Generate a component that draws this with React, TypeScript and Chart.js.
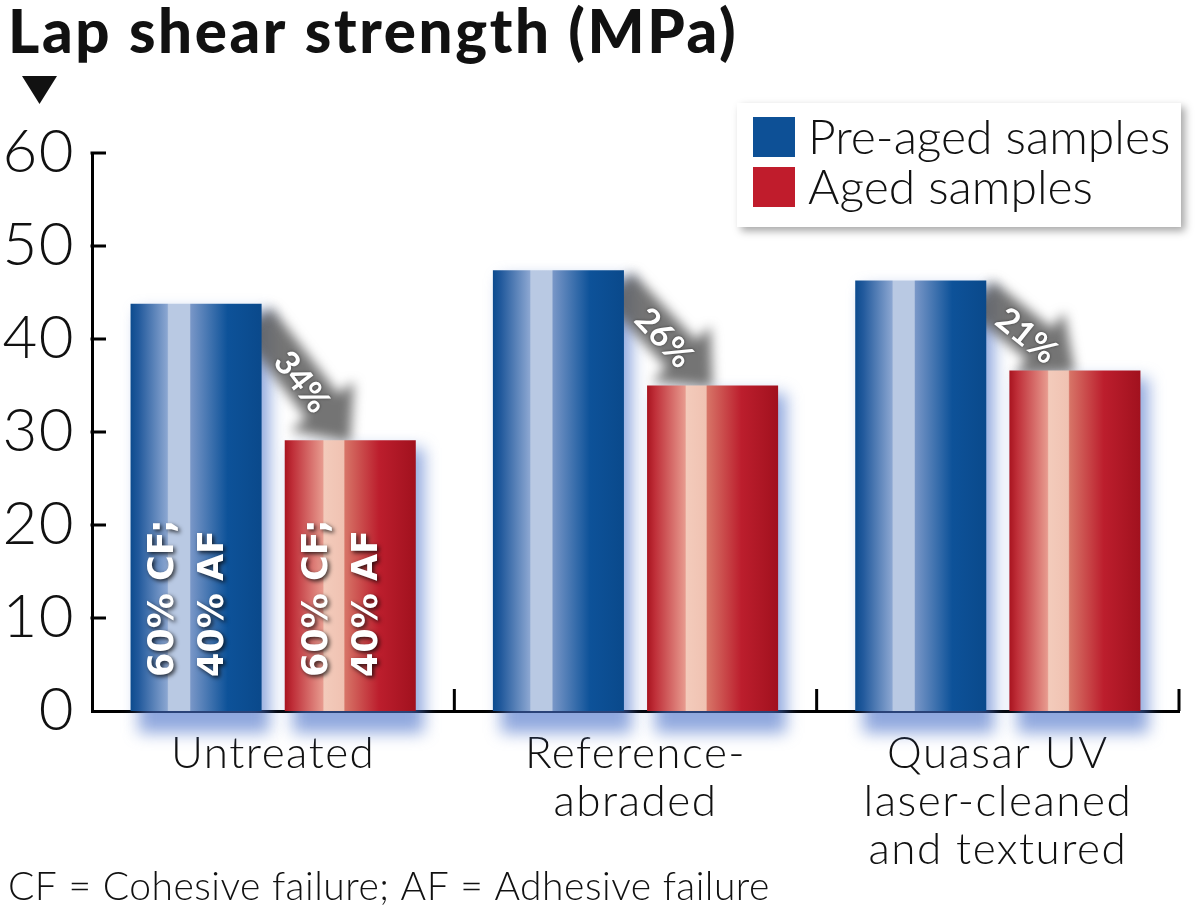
import React, { useEffect, useRef } from "react";
import { Chart, registerables } from "chart.js";

Chart.register(...registerables);

// Treatment groups shown along the x axis (multi-line labels)
const categories: string[][] = [
  ["Untreated"],
  ["Reference-", "abraded"],
  ["Quasar UV", "laser-cleaned", "and textured"],
];

// Lap shear strength in MPa
const preAgedValues = [43.8, 47.4, 46.3];
const agedValues = [29.1, 35.0, 36.6];

const seriesLabels = ["Pre-aged samples", "Aged samples"];
const yTickValues = [0, 10, 20, 30, 40, 50, 60];

// Failure-mode notes written inside the bars of each group
const failureNotes: (string[] | null)[] = [["60% CF;", "40% AF"], null, null];

const titleText = "Lap shear strength (MPa)";
const footnoteText = "CF = Cohesive failure; AF = Adhesive failure";

const blueStops: [number, string][] = [
  [0, "#0c4b8e"],
  [0.06, "#21599c"],
  [0.28, "#8ba6d1"],
  [0.29, "#b9c9e3"],
  [0.45, "#b9c9e3"],
  [0.46, "#7896c7"],
  [0.74, "#0d5299"],
  [1, "#0a498b"],
];
const redStops: [number, string][] = [
  [0, "#a8141f"],
  [0.06, "#bf2e38"],
  [0.29, "#e79a8e"],
  [0.3, "#f3cbbb"],
  [0.45, "#f0c2b2"],
  [0.46, "#d77467"],
  [0.72, "#bc1e2d"],
  [1, "#a1111e"],
];

const makeFill = (stops: [number, string][], fallback: string) => (c: any) => {
  if (c.type !== "data") return fallback;
  const el: any = c.chart.getDatasetMeta(c.datasetIndex).data[c.dataIndex];
  if (!el || el.width == null || !isFinite(el.x) || !isFinite(el.width)) return fallback;
  const left = el.x - el.width / 2;
  const g = c.chart.ctx.createLinearGradient(left, 0, left + el.width, 0);
  stops.forEach(([o, col]) => g.addColorStop(o, col));
  return g;
};

const dropLabel = (i: number) =>
  Math.round(((preAgedValues[i] - agedValues[i]) / preAgedValues[i]) * 100) + "%";

const decorPlugin = {
  id: "decor",
  beforeDraw(chart: any) {
    // slightly open letter spacing for the axis labels
    (chart.ctx as any).letterSpacing = "1.5px";
  },
  beforeDatasetsDraw(chart: any) {
    const { ctx } = chart;
    const blue = chart.getDatasetMeta(0).data;
    const red = chart.getDatasetMeta(1).data;

    // soft blue glow behind the bars
    ctx.save();
    ctx.filter = "blur(8px)";
    ctx.fillStyle = "rgba(70,110,200,0.6)";
    [...blue, ...red].forEach((b: any) => {
      const left = b.x - b.width / 2;
      ctx.fillRect(left + 8, b.y + 8, b.width, b.base - b.y + 14);
    });
    ctx.restore();

    // grey drop arrows from pre-aged to aged bar
    blue.forEach((b: any, i: number) => {
      const r: any = red[i];
      const sx = b.x + b.width / 2 - 6;
      const sy = b.y + 16;
      const tx = r.x;
      const ty = r.y + 2;
      const ang = Math.atan2(ty - sy, tx - sx);
      const len = Math.hypot(tx - sx, ty - sy);
      ctx.save();
      ctx.translate(sx, sy);
      ctx.rotate(ang);
      ctx.save();
      ctx.filter = "blur(6px)";
      ctx.fillStyle = "rgba(92,92,92,0.85)";
      const hw = 20, hh = 40, hl = 46;
      ctx.beginPath();
      ctx.moveTo(0, -hw);
      ctx.lineTo(len - hl, -hw);
      ctx.lineTo(len - hl, -hh);
      ctx.lineTo(len, 0);
      ctx.lineTo(len - hl, hh);
      ctx.lineTo(len - hl, hw);
      ctx.lineTo(0, hw);
      ctx.closePath();
      ctx.fill();
      ctx.restore();
      (ctx as any).letterSpacing = "0px";
      ctx.font = "bold 34px Lato";
      ctx.fillStyle = "#ffffff";
      ctx.textAlign = "center";
      ctx.textBaseline = "middle";
      ctx.shadowColor = "rgba(0,0,0,0.5)";
      ctx.shadowBlur = 3;
      ctx.fillText(dropLabel(i), len * 0.5, 2);
      ctx.restore();
    });
  },
  afterDraw(chart: any) {
    const { ctx, chartArea } = chart;
    const xs = chart.scales.x;
    const ys = chart.scales.y;

    // inward tick marks on both axes
    ctx.save();
    ctx.strokeStyle = "#000";
    ctx.lineWidth = 3;
    ctx.beginPath();
    yTickValues.filter((v) => v > 0).forEach((v) => {
      const py = ys.getPixelForValue(v);
      ctx.moveTo(chartArea.left - 1.5, py);
      ctx.lineTo(chartArea.left + 14, py);
    });
    categories.forEach((_, i) => {
      const px = xs.getPixelForValue(i + 0.5);
      ctx.moveTo(px, chartArea.bottom);
      ctx.lineTo(px, chartArea.bottom - 22);
    });
    ctx.stroke();
    ctx.restore();

    // failure-mode notes inside bars
    const metas = [chart.getDatasetMeta(0), chart.getDatasetMeta(1)];
    failureNotes.forEach((lines, i) => {
      if (!lines) return;
      metas.forEach((m) => {
        const b: any = m.data[i];
        ctx.save();
        ctx.translate(b.x - 7, b.base - 34);
        ctx.rotate(-Math.PI / 2);
        (ctx as any).letterSpacing = "0px";
        ctx.font = 'bold 35px "DejaVu Sans"';
        ctx.fillStyle = "#ffffff";
        ctx.textAlign = "left";
        ctx.textBaseline = "middle";
        ctx.shadowColor = "rgba(0,0,0,0.75)";
        ctx.shadowBlur = 4;
        ctx.shadowOffsetX = 2;
        ctx.shadowOffsetY = 2;
        ctx.fillText(lines[0], 0, -25);
        ctx.fillText(lines[1], 0, 25);
        ctx.restore();
      });
    });

    // title and pointer
    ctx.save();
    ctx.fillStyle = "#111";
    (ctx as any).letterSpacing = "2.6px";
    ctx.font = "900 60px Lato";
    ctx.textAlign = "left";
    ctx.textBaseline = "alphabetic";
    ctx.fillText(titleText, 8, 53);
    ctx.beginPath();
    ctx.moveTo(22, 76);
    ctx.lineTo(57, 76);
    ctx.lineTo(39.5, 104);
    ctx.closePath();
    ctx.fill();

    // footnote
    (ctx as any).letterSpacing = "0.5px";
    ctx.font = "300 39px Lato";
    ctx.fillText(footnoteText, 8, 900);
    ctx.restore();

    // legend box
    ctx.save();
    ctx.shadowColor = "rgba(0,0,0,0.35)";
    ctx.shadowBlur = 8;
    ctx.shadowOffsetX = 4;
    ctx.shadowOffsetY = 4;
    ctx.fillStyle = "#ffffff";
    ctx.fillRect(737, 103, 444, 124);
    ctx.restore();
    ctx.save();
    const swatches = ["#0d5096", "#c01c2c"];
    seriesLabels.forEach((label, k) => {
      const top = 117 + k * 50;
      ctx.fillStyle = swatches[k];
      ctx.fillRect(753, top, 42, 40);
      ctx.fillStyle = "#111";
      (ctx as any).letterSpacing = "0px";
      ctx.font = "300 48px Lato";
      ctx.textAlign = "left";
      ctx.textBaseline = "alphabetic";
      ctx.fillText(label, 808, 154 + k * 50);
    });
    ctx.restore();
  },
};

export default function App() {
  const canvasRef = useRef<HTMLCanvasElement | null>(null);

  useEffect(() => {
    if (!canvasRef.current) return;
    const chart = new Chart(canvasRef.current, {
      type: "bar",
      data: {
        labels: categories,
        datasets: [
          {
            label: seriesLabels[0],
            data: preAgedValues,
            backgroundColor: makeFill(blueStops, "#0d5096"),
            borderWidth: 0,
            categoryPercentage: 0.851,
            barPercentage: 0.85,
            clip: false,
          } as any,
          {
            label: seriesLabels[1],
            data: agedValues,
            backgroundColor: makeFill(redStops, "#c01c2c"),
            borderWidth: 0,
            categoryPercentage: 0.851,
            barPercentage: 0.85,
            clip: false,
          } as any,
        ],
      },
      options: {
        responsive: false,
        animation: false,
        devicePixelRatio: 1,
        layout: { padding: { top: 153, right: 21, bottom: 0, left: 0 } },
        plugins: {
          legend: { display: false },
          title: { display: false },
          tooltip: { enabled: false },
        },
        scales: {
          x: {
            z: 1,
            grid: { display: false, drawTicks: false },
            border: { display: true, color: "#000", width: 3 },
            ticks: {
              color: "#111",
              padding: 19,
              maxRotation: 0,
              autoSkip: false,
              font: { family: "Lato", size: 44, weight: "300", lineHeight: 48 / 44 },
            },
            afterFit: (s: any) => {
              s.height = 203;
            },
          },
          y: {
            z: 1,
            min: 0,
            max: 60,
            grid: { display: false, drawTicks: false },
            border: { display: true, color: "#000", width: 3 },
            ticks: {
              color: "#111",
              padding: 17,
              font: { family: "Lato", size: 60, weight: "300" },
            },
            afterBuildTicks: (s: any) => {
              s.ticks = yTickValues.map((v) => ({ value: v }));
            },
            afterFit: (s: any) => {
              s.width = 92;
            },
          },
        },
      } as any,
      plugins: [decorPlugin],
    });
    // second pass so the bar gradients can use laid-out bar geometry
    chart.update();
    return () => chart.destroy();
  }, []);

  return (
    <div style={{ position: "absolute", left: 0, top: 0, width: 1200, height: 914, background: "#fff" }}>
      <canvas ref={canvasRef} width={1200} height={914} style={{ display: "block" }} />
    </div>
  );
}
